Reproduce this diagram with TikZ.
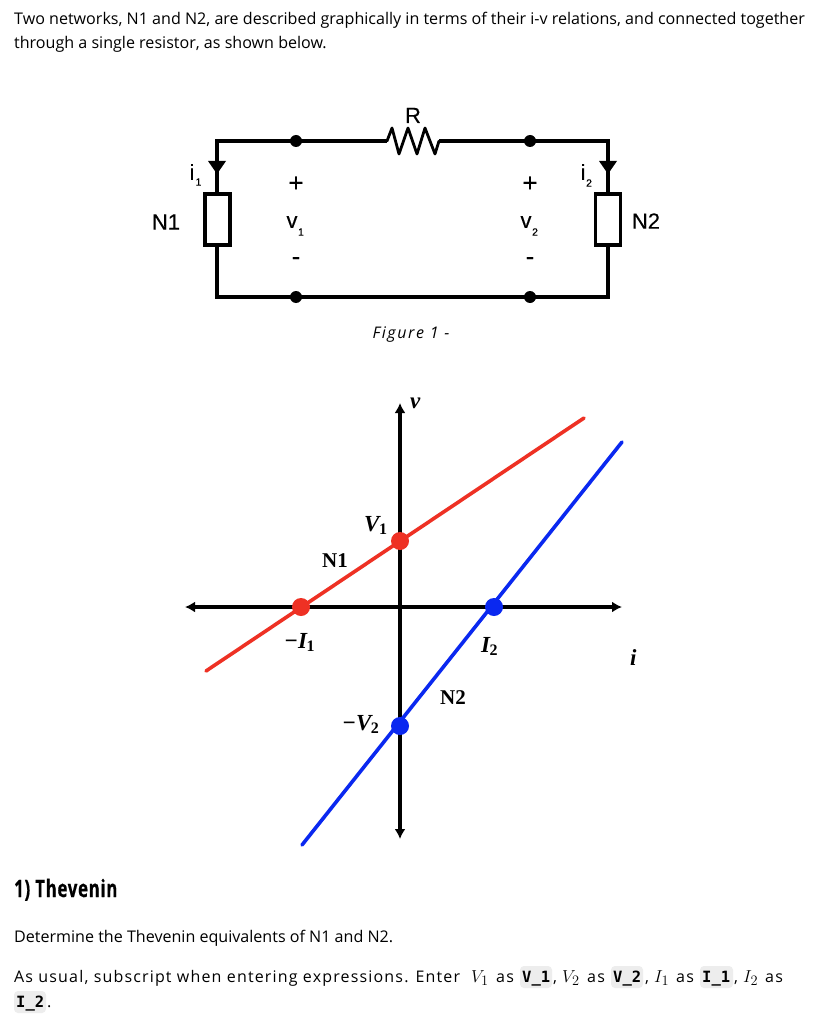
\documentclass[tikz,border=0pt]{standalone}
\usepackage{fontspec}
\setmainfont{Open Sans}
\newfontfamily\circf[FakeBold=0.25]{Liberation Sans}
\newfontfamily\mathf{Liberation Serif}
\newfontfamily\headf[FakeStretch=0.7,LetterSpace=3,FakeBold=0.6]{Open Sans}
\newfontfamily\spacedf[LetterSpace=7.3]{Open Sans}
\newfontfamily\figf[LetterSpace=10]{Open Sans}
\newfontfamily\codef{DejaVu Sans Mono}
\definecolor{redl}{HTML}{EE3124}
\definecolor{bluel}{HTML}{0A28F0}
\definecolor{chipc}{HTML}{EDEDED}
\newcommand{\bodysz}{\fontsize{16.08}{20}\selectfont}
\newcommand{\spsz}{\spacedf\fontsize{16}{20}\selectfont}
\newcommand{\ptsub}[1]{\raisebox{-3.5pt}{\kern-0.5pt\mathf\upshape\bfseries\fontsize{16}{18}\selectfont #1}}
\usetikzlibrary{arrows.meta}
\tikzset{
 body/.style={anchor=base west,inner sep=0,font=\bodysz},
 spaced/.style={anchor=base west,inner sep=0,font=\spsz},
 inl/.style={anchor=base west,inner sep=0,font=\fontsize{19}{20}\selectfont},
 wire/.style={line width=3.3pt,line cap=butt,line join=miter},
 zig/.style={line width=2.8pt,line cap=round,line join=round},
 junction/.style={circle,fill=black,inner sep=0,minimum size=12pt},
 netbox/.style={draw,line width=3.2pt,fill=white,minimum width=25pt,minimum height=51pt,inner sep=0},
 clab/.style={inner sep=0,font=\circf\fontsize{22}{24}\selectfont},
 signl/.style={inner sep=0,font=\circf\fontsize{26}{26}\selectfont},
 subc/.style={inner sep=0,font=\circf\fontsize{10.5}{12}\selectfont},
 axisl/.style={line width=3.5pt,-{Latex[length=10pt,width=11pt]}},
 ptlab/.style={anchor=base west,inner sep=0,font=\mathf\bfseries\itshape\fontsize{23}{24}\selectfont},
 nlab/.style={inner sep=0,font=\mathf\bfseries\fontsize{21}{24}\selectfont},
 curve/.style={line width=3.6pt,line cap=round},
 reddot/.style={circle,fill=redl,inner sep=0,minimum size=18pt},
 bluedot/.style={circle,fill=bluel,inner sep=0,minimum size=18pt},
 chip/.style={fill=chipc,rounded corners=4pt,draw=none},
 codet/.style={anchor=base west,inner sep=0,font=\codef\bfseries\fontsize{15.5}{18}\selectfont},
}
\begin{document}
\begin{tikzpicture}[x=1pt,y=-1pt]
\useasboundingbox (0,0) rectangle (821,1024);
\fill[white] (0,0) rectangle (821,1024);

% intro
\node[body] (t1) at (14,24.5) {Two networks, N1 and N2, are described graphically in terms of their i-v relations, and connected together};
\node[body] (t2) at (14,48.5) {through a single resistor, as shown below.};

% circuit
\coordinate (tl) at (217,141);
\coordinate (tr) at (608,141);
\coordinate (bl) at (217,297);
\coordinate (br) at (608,297);
\coordinate (r1) at (387,141);
\coordinate (r2) at (439,141);
\coordinate (ta1) at (296,141);
\coordinate (ta2) at (530,141);
\coordinate (tb1) at (296,297);
\coordinate (tb2) at (530,297);
\draw[wire] (r1) -- (ta1) -- (tl) -- (bl) -- (tb1) -- (tb2) -- (br) -- (tr) -- (ta2) -- (r2);
\draw[zig] (r1) -- (392,128) -- (399,154) -- (408,128) -- (417,154) -- (425,128) -- (435,154) -- (r2);
\node[junction] (a1) at (ta1) {};
\node[junction] (a2) at (ta2) {};
\node[junction] (b1) at (tb1) {};
\node[junction] (b2) at (tb2) {};
\node[netbox] (n1) at (217.5,219.5) {};
\node[netbox] (n2) at (608,219.5) {};
\fill (208,161) -- (226,161) -- (217,174) -- cycle;
\fill (599,161) -- (617,161) -- (608,174) -- cycle;
\node[clab,anchor=base] (rl) at (413,123) {R};
\node[clab] (nl1) at (166,222) {N1};
\node[clab] (nl2) at (646,221) {N2};
\node[clab] at (192,172) {i};
\node[subc] at (198.5,182) {1};
\node[clab] at (583,172) {i};
\node[subc] at (589,183) {2};
\node[signl] at (296,184) {+};
\node[signl] at (530,184) {+};
\node[clab] at (292,222) {v};
\node[subc] at (301,232) {1};
\node[clab] at (526,222) {v};
\node[subc] at (535,232) {2};
\node[signl] at (296,261) {-};
\node[signl] at (530,261) {-};

\node[anchor=base,inner sep=0,font=\figf\itshape\fontsize{16}{20}\selectfont] (fig) at (411,338) {Figure 1 -};

% graph
\coordinate (xl) at (185,607);
\coordinate (xr) at (622,607);
\coordinate (yt) at (400,403);
\coordinate (yb) at (400,839);
\coordinate (o) at (400,607);
\draw[axisl] (o) -- (xl);
\draw[axisl] (o) -- (xr);
\draw[axisl] (o) -- (yt);
\draw[axisl] (o) -- (yb);
\coordinate (ra) at (206,671);
\coordinate (rb) at (584,418);
\coordinate (ba) at (302,845);
\coordinate (bb) at (622,442);
\draw[curve,redl] (ra) -- (rb);
\draw[curve,bluel] (ba) -- (bb);
\node[reddot] (dv1) at (400,541) {};
\node[reddot] (di1) at (301,607) {};
\node[bluedot] (di2) at (494,607) {};
\node[bluedot] (dv2) at (400,726) {};
\node[ptlab] at (410,408) {v};
\node[ptlab] at (630,665) {i};
\node[ptlab] at (364,531) {V\ptsub{1}};
\node[ptlab] at (284,648) {−I\ptsub{1}};
\node[ptlab] at (481,652) {I\ptsub{2}};
\node[ptlab] at (342,730) {−V\ptsub{2}};
\node[nlab] at (335,561) {N1};
\node[nlab] at (453,698) {N2};

% bottom text
\node[anchor=base west,inner sep=0,font=\headf\bfseries\fontsize{24}{28}\selectfont] (h) at (14,897) {1) Thevenin};
\node[body] (t3) at (14,942.5) {Determine the Thevenin equivalents of N1 and N2.};
\fill[chip] (520,966) rectangle (552,988);
\fill[chip] (611,966) rectangle (643,988);
\fill[chip] (700,966) rectangle (733,988);
\fill[chip] (14,991) rectangle (46,1013);
\node[spaced] (t4) at (14,982.5) {As usual, subscript when entering expressions. Enter};
\node[inl] at (471,982.5) {$V_1$};
\node[spaced] at (496,982.5) {as};
\node[codet] at (522,982.5) {V\_1};
\node[body] at (553,982.5) {,};
\node[inl] at (562,982.5) {$V_2$};
\node[spaced] at (587,982.5) {as};
\node[codet] at (613,982.5) {V\_2};
\node[body] at (645,982.5) {,};
\node[inl] at (654,982.5) {$I_1$};
\node[spaced] at (676,982.5) {as};
\node[codet] at (702,982.5) {I\_1};
\node[body] at (734,982.5) {,};
\node[inl] at (743,982.5) {$I_2$};
\node[spaced] at (765,982.5) {as};
\node[codet] at (16,1007.5) {I\_2};
\node[body] at (47,1007.5) {.};
\end{tikzpicture}
\end{document}
